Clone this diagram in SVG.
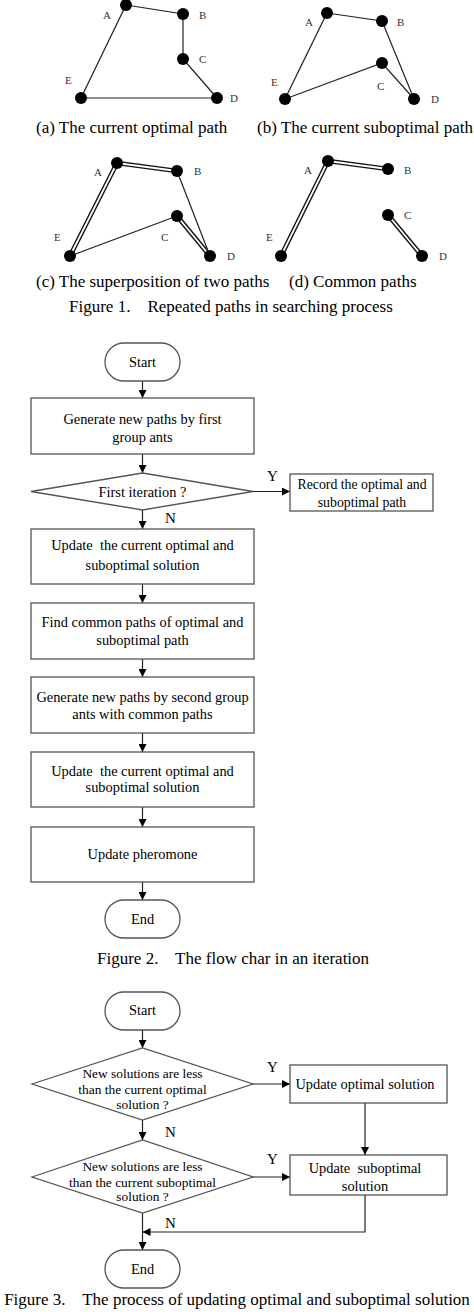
<svg xmlns="http://www.w3.org/2000/svg" width="474" height="1315" viewBox="0 0 474 1315">
<style>
text{font-family:"Liberation Serif","Times New Roman",serif;fill:#000}
.cap{font-size:17px}
.lbl{font-size:11px;fill:#333}
.t{font-size:14.4px;text-anchor:middle}
.tr{font-size:13.8px;text-anchor:middle}
.td{font-size:13.4px;text-anchor:middle}
.yn{font-size:15px}
.e{stroke:#222;stroke-width:1.2;fill:none}
.dbl{stroke:#111;stroke-width:4.6;fill:none}
.dblw{stroke:#fff;stroke-width:1.8;fill:none}
.n{fill:#000}
.box{fill:#fff;stroke:#555;stroke-width:1.3}
.c{stroke:#222;stroke-width:1.2;fill:none}
</style>
<defs>
<marker id="ah" viewBox="0 0 10 10" refX="10" refY="5" markerWidth="8" markerHeight="8" markerUnits="userSpaceOnUse" orient="auto">
<path d="M0,0 L10,5 L0,10 z" fill="#000"/>
</marker>
</defs>

<!-- Figure 1 (a) -->
<g id="fig1a">
<path class="e" d="M126,5 L183,14 L183,59 L217,98 L81,98 Z"/>
<circle class="n" cx="126" cy="5" r="6"/>
<circle class="n" cx="183" cy="14" r="6"/>
<circle class="n" cx="183" cy="59" r="6"/>
<circle class="n" cx="217" cy="98" r="6"/>
<circle class="n" cx="81" cy="98" r="6"/>
<text class="lbl" x="103" y="19">A</text>
<text class="lbl" x="199" y="19">B</text>
<text class="lbl" x="199" y="63">C</text>
<text class="lbl" x="230" y="102">D</text>
<text class="lbl" x="65" y="84">E</text>
<text class="cap" x="36" y="133">(a) The current optimal path</text>
</g>

<!-- Figure 1 (b) -->
<g id="fig1b">
<path class="e" d="M327,13 L382,21 L414,99 L382,63 L285,99 Z"/>
<circle class="n" cx="327" cy="13" r="6"/>
<circle class="n" cx="382" cy="21" r="6"/>
<circle class="n" cx="382" cy="63" r="6"/>
<circle class="n" cx="414" cy="99" r="6"/>
<circle class="n" cx="285" cy="99" r="6"/>
<text class="lbl" x="305" y="26">A</text>
<text class="lbl" x="397" y="26">B</text>
<text class="lbl" x="377" y="90">C</text>
<text class="lbl" x="431" y="103">D</text>
<text class="lbl" x="271" y="86">E</text>
<text class="cap" x="257" y="133">(b) The current suboptimal path</text>
</g>

<!-- Figure 1 (c) -->
<g id="fig1c">
<path class="dbl" d="M70,256 L117,163 L177,171"/>
<path class="dbl" d="M177,216 L210,256"/>
<path class="dblw" d="M70,256 L117,163 L177,171"/>
<path class="dblw" d="M177,216 L210,256"/>
<path class="e" d="M177,171 L210,256 M177,216 L70,256"/>
<circle class="n" cx="117" cy="163" r="6"/>
<circle class="n" cx="177" cy="171" r="6"/>
<circle class="n" cx="177" cy="216" r="6"/>
<circle class="n" cx="210" cy="256" r="6"/>
<circle class="n" cx="70" cy="256" r="6"/>
<text class="lbl" x="94" y="176">A</text>
<text class="lbl" x="194" y="175">B</text>
<text class="lbl" x="161" y="241">C</text>
<text class="lbl" x="227" y="260">D</text>
<text class="lbl" x="54" y="241">E</text>
<text class="cap" x="36" y="287">(c) The superposition of two paths</text>
</g>

<!-- Figure 1 (d) -->
<g id="fig1d">
<path class="dbl" d="M281,256 L328,161 L388,169"/>
<path class="dbl" d="M388,215 L422,256"/>
<path class="dblw" d="M281,256 L328,161 L388,169"/>
<path class="dblw" d="M388,215 L422,256"/>
<circle class="n" cx="328" cy="161" r="6"/>
<circle class="n" cx="388" cy="169" r="6"/>
<circle class="n" cx="388" cy="215" r="6"/>
<circle class="n" cx="422" cy="256" r="6"/>
<circle class="n" cx="281" cy="256" r="6"/>
<text class="lbl" x="304" y="174">A</text>
<text class="lbl" x="404" y="174">B</text>
<text class="lbl" x="404" y="219">C</text>
<text class="lbl" x="439" y="260">D</text>
<text class="lbl" x="266" y="241">E</text>
<text class="cap" x="289" y="287">(d) Common paths</text>
</g>
<text class="cap" x="69" y="312" xml:space="preserve">Figure 1.    Repeated paths in searching process</text>

<!-- Figure 2 connectors -->
<g id="f2-connectors">
<line class="c" x1="142.5" y1="381" x2="142.5" y2="398" marker-end="url(#ah)"/>
<line class="c" x1="142.5" y1="454" x2="142.5" y2="473" marker-end="url(#ah)"/>
<line class="c" x1="253" y1="491.5" x2="290" y2="491.5" marker-end="url(#ah)"/>
<line class="c" x1="142.5" y1="510" x2="142.5" y2="529" marker-end="url(#ah)"/>
<line class="c" x1="142.5" y1="584" x2="142.5" y2="603" marker-end="url(#ah)"/>
<line class="c" x1="142.5" y1="659" x2="142.5" y2="677" marker-end="url(#ah)"/>
<line class="c" x1="142.5" y1="733" x2="142.5" y2="752" marker-end="url(#ah)"/>
<line class="c" x1="142.5" y1="807" x2="142.5" y2="827" marker-end="url(#ah)"/>
<line class="c" x1="142.5" y1="882" x2="142.5" y2="900" marker-end="url(#ah)"/>
<text class="yn" x="267" y="481">Y</text>
<text class="yn" x="165" y="523">N</text>
</g>

<g id="f2-start"><rect class="box" x="105" y="343" width="75" height="38" rx="19"/><text class="t" x="142.5" y="367">Start</text></g>
<g id="f2-gen1"><rect class="box" x="31" y="398" width="223" height="56"/><text class="t" x="142.5" y="424">Generate new paths by first</text><text class="t" x="142.5" y="442">group ants</text></g>
<g id="f2-first"><path class="box" d="M31,491.5 L142.5,473 L253,491.5 L142.5,510 Z"/><text class="t" x="142.5" y="497">First iteration ?</text></g>
<g id="f2-record"><rect class="box" x="290" y="474" width="143" height="37"/><text class="tr" x="362" y="489">Record the optimal and</text><text class="tr" x="362" y="507">suboptimal path</text></g>
<g id="f2-upd1"><rect class="box" x="31" y="529" width="223" height="55"/><text class="t" x="142.5" y="550" xml:space="preserve">Update  the current optimal and</text><text class="t" x="142.5" y="570">suboptimal solution</text></g>
<g id="f2-find"><rect class="box" x="31" y="603" width="223" height="56"/><text class="t" x="142.5" y="627">Find common paths of optimal and</text><text class="t" x="142.5" y="645">suboptimal path</text></g>
<g id="f2-gen2"><rect class="box" x="31" y="677" width="223" height="56"/><text class="t" x="142.5" y="702">Generate new paths by second group</text><text class="t" x="142.5" y="719">ants with common paths</text></g>
<g id="f2-upd2"><rect class="box" x="31" y="752" width="223" height="55"/><text class="t" x="142.5" y="776" xml:space="preserve">Update  the current optimal and</text><text class="t" x="142.5" y="792">suboptimal solution</text></g>
<g id="f2-pher"><rect class="box" x="31" y="827" width="223" height="55"/><text class="t" x="142.5" y="859">Update pheromone</text></g>
<g id="f2-end"><rect class="box" x="105" y="900" width="75" height="38" rx="19"/><text class="t" x="142.5" y="924">End</text></g>
<text class="cap" x="97" y="964" xml:space="preserve">Figure 2.    The flow char in an iteration</text>

<!-- Figure 3 connectors -->
<g id="f3-connectors">
<line class="c" x1="142.5" y1="1030" x2="142.5" y2="1048" marker-end="url(#ah)"/>
<line class="c" x1="253" y1="1084" x2="290" y2="1084" marker-end="url(#ah)"/>
<line class="c" x1="365" y1="1103" x2="365" y2="1155" marker-end="url(#ah)"/>
<line class="c" x1="142.5" y1="1120" x2="142.5" y2="1140" marker-end="url(#ah)"/>
<line class="c" x1="253" y1="1177" x2="290" y2="1177" marker-end="url(#ah)"/>
<polyline class="c" points="365,1195 365,1232 142.5,1232" marker-end="url(#ah)"/>
<line class="c" x1="142.5" y1="1213" x2="142.5" y2="1250" marker-end="url(#ah)"/>
<text class="yn" x="267" y="1072">Y</text>
<text class="yn" x="165" y="1137">N</text>
<text class="yn" x="267" y="1164">Y</text>
<text class="yn" x="165" y="1228">N</text>
</g>

<g id="f3-start"><rect class="box" x="105" y="992" width="75" height="38" rx="19"/><text class="t" x="142.5" y="1015">Start</text></g>
<g id="f3-dec1"><path class="box" d="M32,1084 L142.5,1048 L253,1084 L142.5,1120 Z"/><text class="td" x="142.5" y="1078">New solutions are less</text><text class="td" x="142.5" y="1094">than the current optimal</text><text class="td" x="142.5" y="1109">solution ?</text></g>
<g id="f3-updopt"><rect class="box" x="290" y="1065" width="157" height="38"/><text class="t" x="365" y="1089">Update optimal solution</text></g>
<g id="f3-dec2"><path class="box" d="M32,1177 L142.5,1140 L253,1177 L142.5,1213 Z"/><text class="td" x="142.5" y="1171">New solutions are less</text><text class="td" x="142.5" y="1187">than the current suboptimal</text><text class="td" x="142.5" y="1201">solution ?</text></g>
<g id="f3-updsub"><rect class="box" x="290" y="1155" width="157" height="40"/><text class="t" x="365" y="1173" xml:space="preserve">Update  suboptimal</text><text class="t" x="365" y="1191">solution</text></g>
<g id="f3-end"><rect class="box" x="105" y="1250" width="75" height="38" rx="19"/><text class="t" x="142.5" y="1274">End</text></g>
<text class="cap" x="237" y="1305" text-anchor="middle" xml:space="preserve">Figure 3.    The process of updating optimal and suboptimal solution</text>
</svg>
